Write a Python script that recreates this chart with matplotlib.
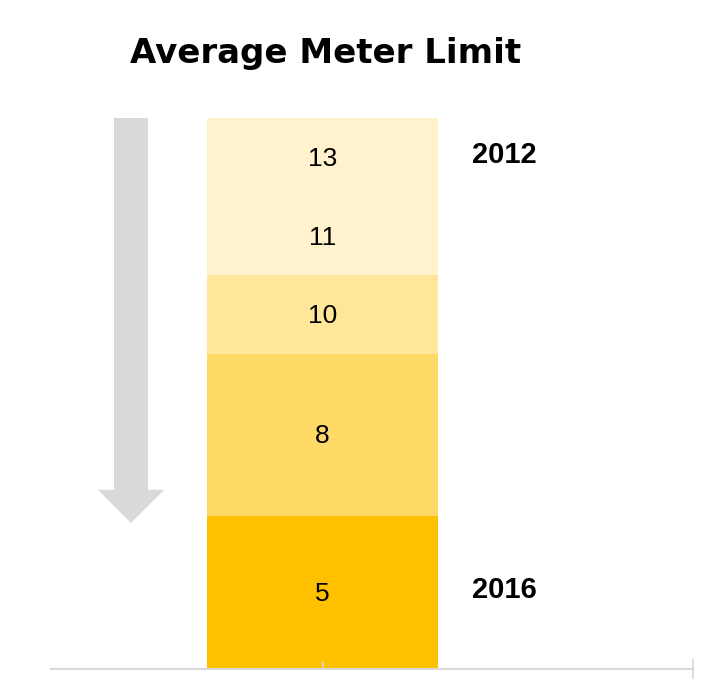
import matplotlib
matplotlib.use("Agg")
import matplotlib.pyplot as plt
from matplotlib.patches import FancyArrow

# segments listed from top of the bar to the bottom
values = [13, 11, 10, 8, 5]
spans = [1.0, 1.0, 1.0, 2.05, 1.95]
colors = ["#FFF2CC", "#FFF2CC", "#FFE699", "#FFD966", "#FFC000"]
end_labels = ["2012", "2016"]

W, H = 710, 696
fig = plt.figure(figsize=(W / 100, H / 100), dpi=100)
fig.patch.set_facecolor("white")

# axes box in pixels: left 51, right 693, bottom 669, top 118
ax = fig.add_axes([51 / W, (H - 669) / H, (693 - 51) / W, (669 - 118) / H])

left = -(322.5 - 51) / 231
right = (693 - 322.5) / 231

bottoms = []
acc = 0.0
for s in reversed(spans):
    bottoms.append(acc)
    acc += s
bottoms = bottoms[::-1]

ax.bar([0] * len(values), spans, bottom=bottoms, width=1.0,
       color=colors, edgecolor="none", zorder=1)

for v, b, s in zip(values, bottoms, spans):
    ax.annotate(str(v), (0, b + s / 2), xytext=(0, -1.2), textcoords="offset points",
                ha="center", va="center", fontsize=19, family="Liberation Sans",
                color="black", zorder=3)

# year labels next to first and last segment
for lab, b, s in [(end_labels[0], bottoms[0], spans[0]),
                  (end_labels[1], bottoms[-1], spans[-1])]:
    ax.annotate(lab, (0.647, b + s / 2), xytext=(0, 1.5), textcoords="offset points",
                ha="left", va="center", fontsize=21, family="Liberation Sans",
                fontweight="bold")

# grey downward arrow
total = sum(spans)
arrow = FancyArrow(-0.829, total, 0, -(total - 1.857),
                   width=0.147, head_width=0.286, head_length=0.42,
                   length_includes_head=True, color="#D9D9D9",
                   linewidth=0, zorder=0.9)
ax.add_patch(arrow)

ax.set_xlim(left, right)
ax.set_ylim(0, total)
for side in ["top", "right", "left"]:
    ax.spines[side].set_visible(False)
ax.spines["bottom"].set_color("#D9D9D9")
ax.spines["bottom"].set_linewidth(1.5)
ax.set_yticks([])
ax.set_xticks([0])
ax.set_xticklabels([])
ax.tick_params(axis="x", direction="in", length=6, width=1.2, color="#D9D9D9")
ax.set_xticks([right * 0.999], minor=True)
ax.tick_params(axis="x", which="minor", direction="inout", length=14,
               width=1.2, color="#D9D9D9")

fig.text(326 / W, 1 - 53 / H, "Average Meter Limit", ha="center", va="center",
         fontsize=24.5, fontweight="bold")

fig.savefig("out.png", dpi=100, facecolor=fig.get_facecolor())
